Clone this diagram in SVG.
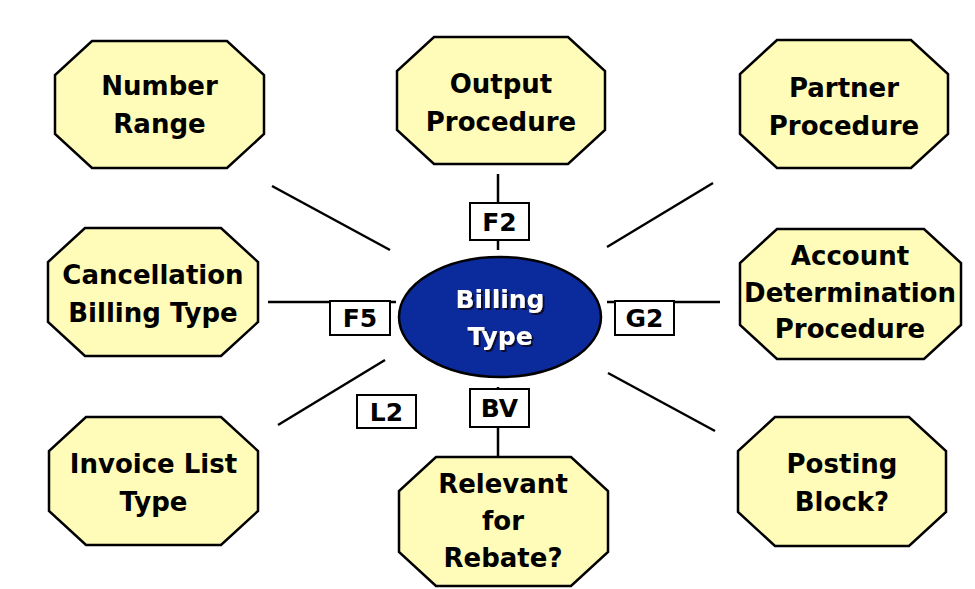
<svg xmlns="http://www.w3.org/2000/svg" width="975" height="589" viewBox="0 0 975 589">
<defs>
<filter id="shadow" x="-20%" y="-20%" width="140%" height="140%">
<feDropShadow dx="2" dy="2" stdDeviation="0.6" flood-color="#101030" flood-opacity="1"/>
</filter>
</defs>
<style>
.oct{fill:#FFFBB8;stroke:#000;stroke-width:2.5;stroke-linejoin:miter}
.t{font-family:"DejaVu Sans",Verdana,sans-serif;font-weight:bold;font-size:26px;fill:#000;text-anchor:middle}
.lbl{fill:#fff;stroke:#000;stroke-width:2}
.lt{font-family:"DejaVu Sans",Verdana,sans-serif;font-weight:bold;font-size:25px;fill:#000;text-anchor:middle}
.c{stroke:#000;stroke-width:2.5;fill:none}
.wt{font-family:"DejaVu Sans",Verdana,sans-serif;font-weight:bold;font-size:25px;fill:#fff;text-anchor:middle;filter:url(#shadow)}
</style>
<rect width="975" height="589" fill="#fff"/>
<g id="connectors">
<line class="c" x1="272" y1="186" x2="390" y2="250"/>
<line class="c" x1="713" y1="183" x2="607" y2="247"/>
<line class="c" x1="278" y1="425" x2="385" y2="360"/>
<line class="c" x1="608" y1="373" x2="715" y2="431"/>
<line class="c" x1="498" y1="174" x2="498" y2="250"/>
<line class="c" x1="498" y1="387" x2="498" y2="457"/>
<line class="c" x1="268" y1="302" x2="396" y2="302"/>
<line class="c" x1="607" y1="302" x2="720" y2="302"/>
</g>
<g id="label-F2"><rect class="lbl" x="470" y="203" width="59" height="37"/><text class="lt" x="499.5" y="231">F2</text></g>
<g id="label-BV"><rect class="lbl" x="470" y="389" width="59" height="38"/><text class="lt" x="499.5" y="417">BV</text></g>
<g id="label-F5"><rect class="lbl" x="330" y="301" width="60" height="34"/><text class="lt" x="360" y="327">F5</text></g>
<g id="label-G2"><rect class="lbl" x="615" y="301" width="59" height="34"/><text class="lt" x="644.5" y="327">G2</text></g>
<g id="label-L2"><rect class="lbl" x="357" y="395" width="59" height="33"/><text class="lt" x="386.5" y="421">L2</text></g>
<g id="billing-type">
<ellipse cx="500" cy="317" rx="101" ry="60" fill="#0B2A9C" stroke="#000" stroke-width="2.5"/>
<text class="wt" x="500" y="308">Billing</text><text class="wt" x="500" y="345">Type</text>
</g>
<g id="number-range">
<polygon class="oct" points="92,41 227,41 264,75 264,134 227,168 92,168 55,134 55,75"/>
<text class="t" x="159.5" y="95">Number</text><text class="t" x="159.5" y="133">Range</text>
</g>
<g id="output-procedure">
<polygon class="oct" points="434,37 568,37 605,71 605,130 568,164 434,164 397,130 397,71"/>
<text class="t" x="501" y="93">Output</text><text class="t" x="501" y="131">Procedure</text>
</g>
<g id="partner-procedure">
<polygon class="oct" points="777,40 911,40 948,74 948,134 911,168 777,168 740,134 740,74"/>
<text class="t" x="844" y="97">Partner</text><text class="t" x="844" y="135">Procedure</text>
</g>
<g id="cancellation-billing-type">
<polygon class="oct" points="85,228 221,228 258,262 258,322 221,356 85,356 48,322 48,262"/>
<text class="t" x="153" y="284">Cancellation</text><text class="t" x="153" y="322">Billing Type</text>
</g>
<g id="account-determination-procedure">
<polygon class="oct" points="777,229 924,229 961,263 961,325 924,359 777,359 740,325 740,263"/>
<text class="t" x="850" y="265">Account</text><text class="t" x="850" y="302">Determination</text><text class="t" x="850" y="338">Procedure</text>
</g>
<g id="invoice-list-type">
<polygon class="oct" points="86,417 221,417 258,451 258,511 221,545 86,545 49,511 49,451"/>
<text class="t" x="153.5" y="473">Invoice List</text><text class="t" x="153.5" y="511">Type</text>
</g>
<g id="relevant-for-rebate">
<polygon class="oct" points="436,457 571,457 608,491 608,552 571,586 436,586 399,552 399,491"/>
<text class="t" x="503" y="493">Relevant</text><text class="t" x="503" y="530">for</text><text class="t" x="503" y="567">Rebate?</text>
</g>
<g id="posting-block">
<polygon class="oct" points="775,417 909,417 946,451 946,512 909,546 775,546 738,512 738,451"/>
<text class="t" x="842" y="473">Posting</text><text class="t" x="842" y="511">Block?</text>
</g>
</svg>
